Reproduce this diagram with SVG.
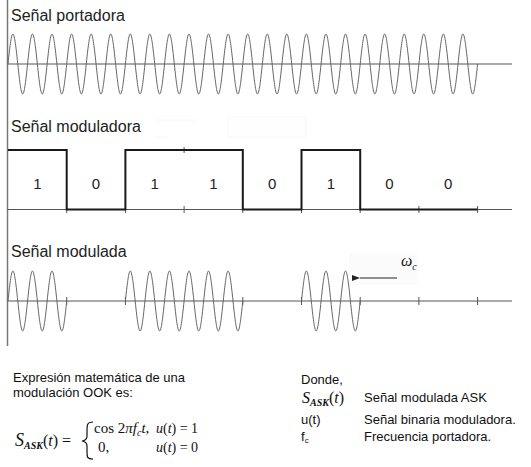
<svg xmlns="http://www.w3.org/2000/svg" width="531" height="467" viewBox="0 0 531 467">
<style>
.title{font-family:"Liberation Sans",Arial,sans-serif;font-size:16px;fill:#222}
.bit{font-family:"Liberation Sans",Arial,sans-serif;font-size:15px;fill:#222;text-anchor:middle}
.txt{font-family:"Liberation Sans",Arial,sans-serif;font-size:13px;fill:#111}
.math{font-family:"Liberation Serif","Times New Roman",serif;fill:#111}
.axis{stroke:#555;stroke-width:1;fill:none}
.wave{stroke:#666;stroke-width:1;fill:none}
.sq{stroke:#1a1a1a;stroke-width:2;fill:none}
.tick{stroke:#555;stroke-width:1}
</style>
<defs>
<path id="burst" d="M0,0 c4.152,-40 5.631,-40 9.783,0 s5.631,40 9.783,0 s5.631,-40 9.783,0 s5.631,40 9.783,0 s5.631,-40 9.783,0 s5.631,40 9.783,0"/>
<marker id="ah" viewBox="0 0 8 6" refX="0" refY="3" markerWidth="8" markerHeight="6" orient="auto-start-reverse" markerUnits="userSpaceOnUse">
<path d="M0,3 L8,0 L8,6 Z" fill="#222"/>
</marker>
</defs>
<rect width="531" height="467" fill="#fff"/>
<!-- faint artifacts -->
<rect x="228" y="117" width="78" height="20" fill="#fefefe" stroke="#f7f7f7"/>
<line x1="156" y1="120" x2="195" y2="120" stroke="#f6f6f6"/>
<line x1="156" y1="137" x2="167" y2="137" stroke="#f6f6f6"/>
<rect x="349" y="253" width="68" height="32" fill="#fbfbfb"/>

<line x1="7.5" y1="0" x2="7.5" y2="346" stroke="#777" stroke-width="1.5"/>

<g id="carrier">
<text class="title" x="11" y="21">Señal portadora</text>
<line class="axis" x1="7.5" y1="64" x2="512" y2="64"/>
<g class="wave">
<use href="#burst" x="8" y="64"/>
<use href="#burst" x="66.7" y="64"/>
<use href="#burst" x="125.4" y="64"/>
<use href="#burst" x="184.1" y="64"/>
<use href="#burst" x="242.8" y="64"/>
<use href="#burst" x="301.5" y="64"/>
<use href="#burst" x="360.2" y="64"/>
<use href="#burst" x="418.9" y="64"/>
</g>
</g>

<g id="modulator">
<text class="title" x="11" y="132">Señal moduladora</text>
<line class="axis" x1="7.5" y1="209.5" x2="512" y2="209.5"/>
<g class="tick">
<line x1="66.7" y1="206" x2="66.7" y2="213"/>
<line x1="125.4" y1="206" x2="125.4" y2="213"/>
<line x1="184.1" y1="206" x2="184.1" y2="213"/>
<line x1="184.1" y1="147" x2="184.1" y2="153"/>
<line x1="242.8" y1="206" x2="242.8" y2="213"/>
<line x1="301.5" y1="206" x2="301.5" y2="213"/>
<line x1="360.2" y1="206" x2="360.2" y2="213"/>
<line x1="418.9" y1="206" x2="418.9" y2="213"/>
<line x1="477.6" y1="206" x2="477.6" y2="213"/>
</g>
<path class="sq" d="M8,150 H66.7 V209.5 H125.4 V150 H242.8 V209.5 H301.5 V150 H360.2 V209.5 H477.6"/>
<text class="bit" x="37.4" y="189">1</text>
<text class="bit" x="96" y="189">0</text>
<text class="bit" x="154.7" y="189">1</text>
<text class="bit" x="213.4" y="189">1</text>
<text class="bit" x="272.1" y="189">0</text>
<text class="bit" x="330.8" y="189">1</text>
<text class="bit" x="389.5" y="189">0</text>
<text class="bit" x="448.2" y="189">0</text>
</g>

<g id="modulated">
<text class="title" x="11" y="257">Señal modulada</text>
<line class="axis" x1="7.5" y1="301" x2="512" y2="301"/>
<g class="tick">
<line x1="66.7" y1="297" x2="66.7" y2="305"/>
<line x1="125.4" y1="297" x2="125.4" y2="305"/>
<line x1="242.8" y1="297" x2="242.8" y2="305"/>
<line x1="301.5" y1="297" x2="301.5" y2="305"/>
<line x1="360.2" y1="297" x2="360.2" y2="305"/>
<line x1="418.9" y1="297" x2="418.9" y2="305"/>
<line x1="477.6" y1="297" x2="477.6" y2="305"/>
</g>
<g class="wave">
<use href="#burst" x="8" y="301"/>
<use href="#burst" x="125.4" y="301"/>
<use href="#burst" x="184.1" y="301"/>
<use href="#burst" x="301.5" y="301"/>
</g>
</g>

<g id="connectors">
<line x1="397" y1="278" x2="360" y2="278" stroke="#222" stroke-width="1" marker-end="url(#ah)"/>
</g>
<g id="omega-label">
<text class="math" x="401" y="266" font-size="16" font-style="italic">ω<tspan font-size="10" dy="4">c</tspan></text>
</g>

<g id="expression">
<text class="txt" x="13" y="382">Expresión matemática de una</text>
<text class="txt" x="13" y="397">modulación OOK es:</text>
<text class="math" x="15" y="446" font-size="18" font-style="italic">S<tspan font-size="10" dy="3" font-weight="bold">ASK</tspan><tspan dy="-3" font-size="16" font-style="normal">(</tspan><tspan font-size="16">t</tspan><tspan font-size="16" font-style="normal">) =</tspan></text>
<path d="M93,422 C87,422 87,425 87,431 L87,436 C87,439 86,440.5 82,441 C86,441.5 87,443 87,446 L87,452 C87,457 87,459 93,459" fill="none" stroke="#111" stroke-width="1.2"/>
<text class="math" x="94" y="433" font-size="15">cos 2<tspan font-style="italic">πf</tspan><tspan font-size="10" dy="3" font-style="italic">c</tspan><tspan dy="-3" font-style="italic">t</tspan>,</text>
<text class="math" x="156" y="433" font-size="14"><tspan font-style="italic">u</tspan>(<tspan font-style="italic">t</tspan>) = 1</text>
<text class="math" x="98" y="452" font-size="15">0,</text>
<text class="math" x="156" y="452" font-size="14"><tspan font-style="italic">u</tspan>(<tspan font-style="italic">t</tspan>) = 0</text>
</g>

<g id="legend">
<text class="txt" x="301" y="384">Donde,</text>
<text class="math" x="302" y="403" font-size="16" font-style="italic">S<tspan font-size="10" dy="3" font-weight="bold">ASK</tspan><tspan dy="-3" font-style="normal">(</tspan>t<tspan font-style="normal">)</tspan></text>
<text class="txt" x="364" y="402">Señal modulada ASK</text>
<text class="txt" x="301" y="424">u(t)</text>
<text class="txt" x="364" y="424">Señal binaria moduladora.</text>
<text class="txt" x="301" y="441">f<tspan font-size="8" dy="2">c</tspan></text>
<text class="txt" x="364" y="441">Frecuencia portadora.</text>
</g>
</svg>
